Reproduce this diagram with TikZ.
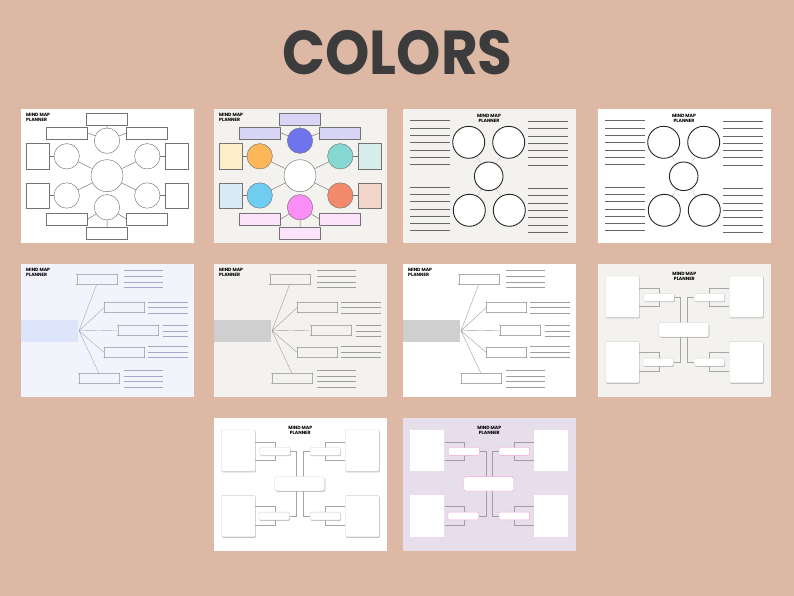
\documentclass[tikz,border=0pt]{standalone}
\usepackage{fontspec}
\setmainfont{Poppins}
\usepackage{xcolor}
\usetikzlibrary{shadows}

\definecolor{backdrop}{HTML}{DDB9A5}
\definecolor{ink}{HTML}{3C3C3C}
\definecolor{paper}{HTML}{F4F2EE}
\definecolor{lilac}{HTML}{F3F4FB}
\definecolor{mauve}{HTML}{E6DFEB}
\definecolor{icetab}{HTML}{DCE5FA}

% wheel colours (plain sheet: all white)
\colorlet{wC}{white}
\colorlet{wT}{white}
\colorlet{wB}{white}
\colorlet{wLU}{white}
\colorlet{wLL}{white}
\colorlet{wRU}{white}
\colorlet{wRL}{white}
\colorlet{kT}{white}
\colorlet{kB}{white}
\colorlet{kLU}{white}
\colorlet{kLL}{white}
\colorlet{kRU}{white}
\colorlet{kRL}{white}

\tikzset{
  heading/.style={font=\fontsize{4.6}{4.8}\selectfont\bfseries, inner sep=0pt, text=black},
  bub/.style={circle, draw=black!55, line width=0.45pt, minimum size=25.4pt, inner sep=0pt},
  hub/.style={bub, minimum size=32pt},
  wbox/.style={rectangle, draw=black!55, line width=0.45pt, minimum width=41pt, minimum height=11.7pt, inner sep=0pt},
  sbox/.style={wbox, minimum width=23.3pt, minimum height=25.3pt},
  wire/.style={draw=black!55, line width=0.45pt},
  ring/.style={circle, draw=black!85, line width=0.9pt, fill=white, minimum size=32pt, inner sep=0pt},
  rule/.style={draw=black!60, line width=0.75pt},
  tab/.style={fill=black!19},
  twig/.style={draw=black!38, line width=0.4pt},
  tbox/.style={rectangle, draw=black!32, line width=0.3pt, minimum width=40pt, minimum height=10pt, inner sep=0pt},
  tdot/.style={fill=black!45},
  pane/.style={rectangle, rounded corners=1.2pt, fill=white, draw=black!18, line width=0.3pt,
    drop shadow={shadow xshift=0.6pt, shadow yshift=-0.9pt, fill=black!40, opacity=0.6}, inner sep=0pt},
  chip/.style={pane},
  brk/.style={draw=black!35, line width=0.4pt}
}

\newcommand{\wheelsheet}{%
  \node[heading, anchor=north west, align=left] (ttl) at (5,4.5) {MIND MAP\\PLANNER};
  \node[hub, fill=wC] (c) at (86,66.7) {};
  \node[bub, fill=wT] (t) at (86,31.7) {};
  \node[bub, fill=wB] (b) at (86,98.3) {};
  \node[bub, fill=wLU] (lu) at (45.7,47.3) {};
  \node[bub, fill=wLL] (ll) at (45.7,86.5) {};
  \node[bub, fill=wRU] (ru) at (126.3,47.3) {};
  \node[bub, fill=wRL] (rl) at (126.3,86.5) {};
  \node[wbox, fill=kT] (tb) at (86.2,10) {};
  \node[wbox, fill=kT] (tl) at (46.2,24) {};
  \node[wbox, fill=kT] (tr) at (126.2,24) {};
  \node[wbox, fill=kB] (bl) at (46.2,110) {};
  \node[wbox, fill=kB] (br) at (126.2,110) {};
  \node[wbox, fill=kB] (bb) at (86.2,124) {};
  \node[sbox, fill=kLU] (slu) at (16.7,47.3) {};
  \node[sbox, fill=kLL] (sll) at (16.7,86.5) {};
  \node[sbox, fill=kRU] (sru) at (155.7,47.3) {};
  \node[sbox, fill=kRL] (srl) at (155.7,86.5) {};
  \draw[wire] (tb) -- (t) (tl.east) -- (t) (tr.west) -- (t);
  \draw[wire] (bb) -- (b) (bl.east) -- (b) (br.west) -- (b);
  \draw[wire] (c) -- (lu) (c) -- (ll) (c) -- (ru) (c) -- (rl);
  \draw[wire] (lu) -- (slu) (ll) -- (sll) (ru) -- (sru) (rl) -- (srl);
}

\newcommand{\linedsheet}{%
  \node[heading, anchor=north, align=center] (ttl) at (86,5.5) {MIND MAP\\PLANNER};
  \foreach \k in {0,...,6} {
    \draw[rule] (7.3,{11.7+7.3*\k}) -- (46.7,{11.7+7.3*\k});
    \draw[rule] (7.3,{78+7.3*\k}) -- (46.7,{78+7.3*\k});
    \draw[rule] (125,{12.3+7.3*\k}) -- (164.5,{12.3+7.3*\k});
    \draw[rule] (125,{79+7.45*\k}) -- (164.5,{79+7.45*\k});
  }
  \node[ring] (p1) at (65.7,33.3) {};
  \node[ring] (p2) at (105.7,33.3) {};
  \node[ring, minimum size=28.6pt] (m) at (85.7,67.3) {};
  \node[ring] (p3) at (66.3,101.3) {};
  \node[ring] (p4) at (106.3,101.3) {};
  \draw[wire, densely dotted] (m) -- (p1) (m) -- (p2) (m) -- (p3) (m) -- (p4);
}

\newcommand{\treesheet}{%
  \node[heading, anchor=north west, align=left] (ttl) at (5,4.5) {MIND MAP\\PLANNER};
  \fill[tab] (0,56.3) rectangle (57.3,78);
  \coordinate (h) at (58,67.3);
  \node[tbox] (b1) at (75.7,15.7) {};
  \node[tbox] (b2) at (103.3,44) {};
  \node[tbox] (b3) at (116.7,66.7) {};
  \node[tbox] (b4) at (103.3,89) {};
  \node[tbox] (b5) at (78,115) {};
  \draw[twig] (h) -- (b1.south) (h) -- (b2.west) (h) -- (b3.west) (h) -- (b4.west) (h) -- (b5.north);
  \foreach \n in {1,...,5}
    \foreach \a in {north west,north east,south west,south east}
      \fill[tdot] (b\n.\a) circle (0.5);
  \foreach \y in {6.3,12.3,18.3,24} \draw[twig] (103.3,\y) -- (142.3,\y);
  \foreach \y in {38.3,44,49.7} \draw[twig] (127.3,\y) -- (166.7,\y);
  \foreach \y in {61.3,67.3,72.7} \draw[twig] (141.7,\y) -- (166.7,\y);
  \foreach \y in {83,88.3,94} \draw[twig] (127.3,\y) -- (166.7,\y);
  \foreach \y in {106.7,112.3,118,123.7} \draw[twig] (103.3,\y) -- (142.3,\y);
}

\newcommand{\bracketsheet}{%
  \node[heading, anchor=north, align=center] (ttl) at (86.3,8.5) {MIND MAP\\PLANNER};
  \node[pane, minimum width=34pt, minimum height=41.5pt] (L1) at (24.3,33.2) {};
  \node[pane, minimum width=34pt, minimum height=41.5pt] (R1) at (148.2,33.2) {};
  \node[pane, minimum width=34pt, minimum height=41.5pt] (L2) at (24.3,98.6) {};
  \node[pane, minimum width=34pt, minimum height=41.5pt] (R2) at (148.2,98.6) {};
  \draw[brk] ([yshift=-12pt]L1.north east) -- ++(19.4,0) |- ([yshift=-30.5pt]L1.north east);
  \draw[brk] ([yshift=-12pt]R1.north west) -- ++(-20,0) |- ([yshift=-30.5pt]R1.north west);
  \draw[brk] ([yshift=-10.7pt]L2.north east) -- ++(19.4,0) |- ([yshift=-30pt]L2.north east);
  \draw[brk] ([yshift=-10.7pt]R2.north west) -- ++(-20,0) |- ([yshift=-30pt]R2.north west);
  \node[chip, minimum width=30.6pt, minimum height=7.8pt] (s1) at (61,33.9) {};
  \node[chip, minimum width=30.6pt, minimum height=7.8pt] (s2) at (111.3,33.9) {};
  \node[chip, minimum width=30.6pt, minimum height=7.8pt] (s3) at (60.2,98.5) {};
  \node[chip, minimum width=30.6pt, minimum height=7.8pt] (s4) at (111.3,98.5) {};
  \draw[brk] (s1.east) -- ++(6.2,0) |- (s3.east);
  \draw[brk] (s2.west) -- ++(-6.2,0) |- (s4.west);
  \node[chip, minimum width=50pt, minimum height=14.3pt, rounded corners=1.8pt] (cb) at (85.7,66.3) {};
}

\begin{document}
\begin{tikzpicture}[x=1pt, y=-1pt]
  \fill[backdrop] (0,0) rectangle (794,596);
  \useasboundingbox (0,0) rectangle (794,596);
  \node[font=\fontsize{62}{62}\selectfont\bfseries, text=ink, inner sep=0pt, xscale=0.91] (head) at (397.5,53) {COLORS};

  % row 1
  \begin{scope}[shift={(21,109)}]
    \fill[white] (0,0) rectangle (173,133.5);
    \wheelsheet
  \end{scope}
  \begin{scope}[shift={(214,109)}]
    \fill[paper] (0,0) rectangle (173,133.5);
    \definecolor{wT}{HTML}{7073EE}
    \definecolor{wB}{HTML}{FB8DF6}
    \definecolor{wLU}{HTML}{FDB65A}
    \definecolor{wLL}{HTML}{6ECDF0}
    \definecolor{wRU}{HTML}{86D9D3}
    \definecolor{wRL}{HTML}{F28A6B}
    \definecolor{kT}{HTML}{D8D5F6}
    \definecolor{kB}{HTML}{FCE3FA}
    \definecolor{kLU}{HTML}{FBEEC8}
    \definecolor{kLL}{HTML}{D9EBF6}
    \definecolor{kRU}{HTML}{D7EDEB}
    \definecolor{kRL}{HTML}{F2D5C9}
    \wheelsheet
  \end{scope}
  \begin{scope}[shift={(403,109)}]
    \fill[paper] (0,0) rectangle (173,133.5);
    \linedsheet
  \end{scope}
  \begin{scope}[shift={(598,109)}]
    \fill[white] (0,0) rectangle (173,133.5);
    \linedsheet
  \end{scope}

  % row 2
  \begin{scope}[shift={(21,263.5)}, tab/.style={fill=icetab}, twig/.style={draw=blue!40!black!35, line width=0.4pt},
      tbox/.style={rectangle, draw=blue!20!black!30, line width=0.3pt, minimum width=40pt, minimum height=10pt, inner sep=0pt}]
    \fill[lilac] (0,0) rectangle (173,133.5);
    \treesheet
  \end{scope}
  \begin{scope}[shift={(214,263.5)}]
    \fill[paper] (0,0) rectangle (173,133.5);
    \treesheet
  \end{scope}
  \begin{scope}[shift={(403,263.5)}]
    \fill[white] (0,0) rectangle (173,133.5);
    \treesheet
  \end{scope}
  \begin{scope}[shift={(598,263.5)}]
    \fill[paper] (0,0) rectangle (173,133.5);
    \bracketsheet
  \end{scope}

  % row 3
  \begin{scope}[shift={(214,417.5)}]
    \fill[white] (0,0) rectangle (173,133.5);
    \bracketsheet
  \end{scope}
  \begin{scope}[shift={(403,417.5)}, pane/.style={rectangle, fill=white, inner sep=0pt},
      chip/.style={rectangle, rounded corners=1pt, fill=white, draw=magenta!35, line width=0.4pt, inner sep=0pt},
      brk/.style={draw=violet!30!black!40, line width=0.4pt}]
    \fill[mauve] (0,0) rectangle (173,133.5);
    \bracketsheet
  \end{scope}
\end{tikzpicture}
\end{document}
